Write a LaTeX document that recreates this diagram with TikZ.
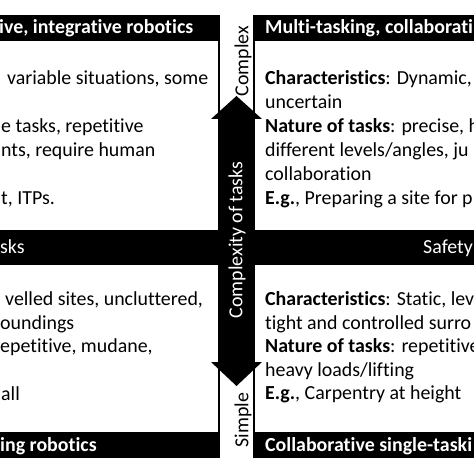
\documentclass[tikz,border=0pt]{standalone}
\usepackage{fontspec}
\setmainfont{Carlito}[Ligatures=NoCommon]
\newcommand\qfs{\fontsize{19.9bp}{24bp}\selectfont}
\begin{document}
\begin{tikzpicture}[x=1bp,y=-1bp,
  box/.style={draw=black, line width=1.3bp, fill=white},
  bar/.style={fill=black},
  ttl/.style={text=white, font=\qfs\bfseries, anchor=base west, inner sep=0},
  txt/.style={text=black, font=\qfs, anchor=base west, inner sep=0},
  axislbl/.style={font=\qfs, rotate=90, inner sep=0}]
\useasboundingbox (0,0) rectangle (474,474);
\clip (0,0) rectangle (474,474);
\fill[white] (0,0) rectangle (474,474);
% quadrant boxes
\draw[box] (-10,16) rectangle (219,231);
\fill[bar] (-10,16) rectangle (219,41);
\draw[box] (254,16) rectangle (490,231);
\fill[bar] (254,16) rectangle (490,41);
\draw[box] (-10,264) rectangle (219,457);
\fill[bar] (-10,432) rectangle (219,457);
\draw[box] (254,264) rectangle (490,457);
\fill[bar] (254,432) rectangle (490,457);
% horizontal band
\fill[bar] (-10,232) rectangle (490,264);
% vertical double arrow
\fill[black] (236.5,96) -- (262,119) -- (254.5,119) -- (254.5,362) -- (262,362)
  -- (236.5,386) -- (211,362) -- (218.5,362) -- (218.5,119) -- (211,119) -- cycle;
% axis labels
\node[axislbl, text=white] (cx) at (237,240) {Complexity of tasks};
\node[axislbl] (cplx) at (243,61) {Complex};
\node[axislbl] (smpl) at (243,420) {Simple};
\node[txt, text=white] (hl) at (0,253) {sks};
\node[txt, text=white] (hr) at (423,253) {Safety};
% top-left
\node[ttl] (t1) at (-1,34) {ive, integrative robotics};
\node[txt] (a1) at (7,85) {variable situations, some};
\node[txt] (a2) at (1,133) {e tasks, repetitive};
\node[txt] (a3) at (1,157) {nts, require human};
\node[txt] (a4) at (1,205) {t, ITPs.};
% top-right
\node[ttl] (t2) at (265,34) {Multi-tasking, collaborati};
\node[txt] (b1) at (265,85) {\textbf{Characteristics}: Dynamic,};
\node[txt] (b2) at (265,109) {uncertain};
\node[txt] (b3) at (265,133) {\textbf{Nature of tasks}: precise, h};
\node[txt] (b4) at (265,157) {different levels/angles, ju};
\node[txt] (b5) at (265,181) {collaboration};
\node[txt] (b6) at (265,205) {\textbf{E.g.}, Preparing a site for p};
% bottom-left
\node[txt] (c1) at (5,305) {velled sites, uncluttered,};
\node[txt] (c2) at (0,329) {oundings};
\node[txt] (c3) at (0,352) {epetitive, mudane,};
\node[txt] (c4) at (1,400) {all};
\node[ttl] (t3) at (0,451) {ing robotics};
% bottom-right
\node[txt] (d1) at (265,305) {\textbf{Characteristics}: Static, lev};
\node[txt] (d2) at (265,329) {tight and controlled surro};
\node[txt] (d3) at (265,352) {\textbf{Nature of tasks}: repetitive};
\node[txt] (d4) at (265,376) {heavy loads/lifting};
\node[txt] (d5) at (265,399) {\textbf{E.g.}, Carpentry at height};
\node[ttl] (t4) at (265,451) {Collaborative single-taski};
\end{tikzpicture}
\end{document}
